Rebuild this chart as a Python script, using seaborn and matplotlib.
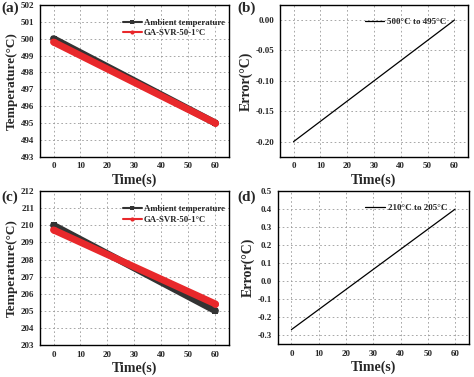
import matplotlib
matplotlib.use("Agg")
import matplotlib.pyplot as plt
import seaborn as sns
import pandas as pd
from matplotlib.ticker import AutoMinorLocator

sns.set_theme(style="white")
plt.rcParams['font.family'] = ['Liberation Serif', 'DejaVu Serif']
plt.rcParams['font.weight'] = 'bold'

time = [0, 60]
ambient_500 = [500.0, 495.0]
gasvr_500 = [499.8, 495.0]
error_500 = [-0.20, 0.00]
ambient_210 = [210.0, 205.0]
gasvr_210 = [209.73, 205.4]
error_210 = [-0.27, 0.40]

xticks = [0, 10, 20, 30, 40, 50, 60]

fig = plt.figure(figsize=(4.74, 3.77), dpi=100)
ax_a = fig.add_axes([0.0844, 0.584, 0.3986, 0.403])
ax_b = fig.add_axes([0.591, 0.584, 0.396, 0.403])
ax_c = fig.add_axes([0.0844, 0.085, 0.3986, 0.408])
ax_d = fig.add_axes([0.586, 0.0875, 0.403, 0.4055])


def style(ax, ylim, yticks, fmt):
    ax.set_xlim(-5, 65)
    ax.set_ylim(*ylim)
    ax.set_xticks(xticks)
    ax.set_yticks(yticks)
    ax.set_yticklabels([fmt.format(v) for v in yticks])
    ax.xaxis.set_minor_locator(AutoMinorLocator(2))
    ax.yaxis.set_minor_locator(AutoMinorLocator(2))
    ax.tick_params(which='both', direction='in', top=False, right=False,
                   labelsize=6.5, width=0.8)
    ax.tick_params(which='major', length=3, pad=4)
    ax.tick_params(which='minor', length=1.5)
    for lab in ax.get_xticklabels() + ax.get_yticklabels():
        lab.set_fontweight('bold')
    ax.grid(True, which='major', linestyle=(0, (2, 3)), color='#999999', linewidth=0.6)
    for s in ax.spines.values():
        s.set_color('black')
        s.set_linewidth(1.0)
    ax.set_xlabel('Time(s)', fontsize=10, fontweight='bold', labelpad=2)


def temp_panel(ax, amb, pred, ylim, yticks):
    df = pd.DataFrame({'Time': time * 2,
                       'T': amb + pred,
                       'series': ['Ambient temperature'] * len(time) + ['GA-SVR-50-1°C'] * len(time)})
    sns.lineplot(data=df, x='Time', y='T', hue='series',
                 palette={'Ambient temperature': '#333333', 'GA-SVR-50-1°C': '#e8282b'},
                 style='series', markers={'Ambient temperature': 's', 'GA-SVR-50-1°C': 'o'},
                 dashes=False, markersize=5, markeredgewidth=0, linewidth=5, ax=ax)
    style(ax, ylim, yticks, '{:.0f}')
    ax.set_ylabel('Temperature(°C)', fontsize=9.5, fontweight='bold', labelpad=2)
    h, l = ax.get_legend_handles_labels()
    for hh in h:
        hh.set_linewidth(1.5)
        hh.set_markersize(3)
    ax.legend(h, l, loc='upper right', frameon=False, prop={'size': 6.3, 'weight': 'bold'},
              handlelength=2.2, handletextpad=0.2, borderaxespad=0.3, labelspacing=0.3,
              bbox_to_anchor=(1.01, 0.95))


def err_panel(ax, err, label, ylim, yticks, fmt):
    df = pd.DataFrame({'Time': time, 'E': err})
    sns.lineplot(data=df, x='Time', y='E', color='black', linewidth=0.9, ax=ax, label=label)
    style(ax, ylim, yticks, fmt)
    ax.set_ylabel('Error(°C)', fontsize=10, fontweight='bold', labelpad=2)
    ax.legend(loc='upper right', frameon=False, prop={'size': 6.5, 'weight': 'bold'},
              handlelength=2.2, handletextpad=0.3, bbox_to_anchor=(0.93, 0.97))


temp_panel(ax_a, ambient_500, gasvr_500, (493, 502), list(range(493, 503)))
err_panel(ax_b, error_500, '500°C to 495°C', (-0.225, 0.025),
          [-0.20, -0.15, -0.10, -0.05, 0.00], '{:.2f}')
temp_panel(ax_c, ambient_210, gasvr_210, (203, 212), list(range(203, 213)))
err_panel(ax_d, error_210, '210°C to 205°C', (-0.35, 0.5),
          [-0.3, -0.2, -0.1, 0.0, 0.1, 0.2, 0.3, 0.4, 0.5], '{:.1f}')

for txt, x, y in [('(a)', 0.002, 0.978), ('(b)', 0.5, 0.978),
                  ('(c)', 0.002, 0.477), ('(d)', 0.5, 0.477)]:
    fig.text(x, y, txt, fontsize=11, fontweight='bold', ha='left', va='center')

fig.savefig('out.png', dpi=100)
